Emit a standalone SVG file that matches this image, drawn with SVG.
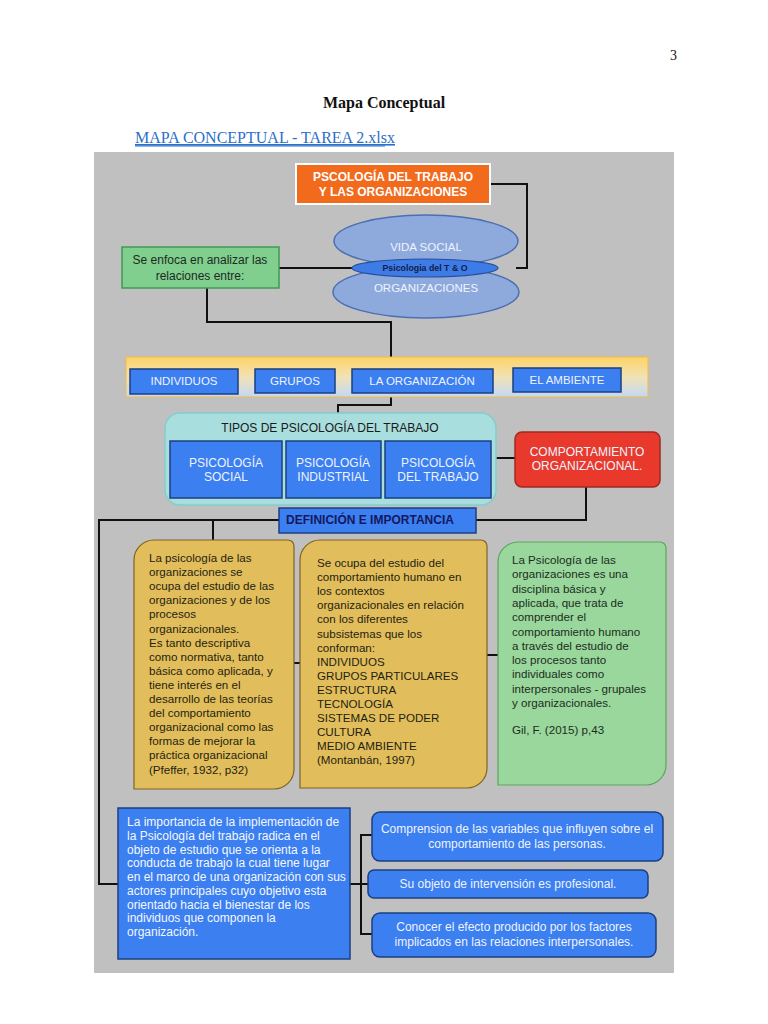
<svg xmlns="http://www.w3.org/2000/svg" width="768" height="1024" viewBox="0 0 768 1024">
<defs>
<linearGradient id="band" x1="0" y1="0" x2="0" y2="1">
<stop offset="0" stop-color="#ffd366"/>
<stop offset="0.5" stop-color="#f1e2b6"/>
<stop offset="1" stop-color="#c3d8f6"/>
</linearGradient>
<style>
.s{font-family:"Liberation Sans",Arial,sans-serif}
.serif{font-family:"Liberation Serif","Times New Roman",serif}
.ln{stroke:#111;stroke-width:2;fill:none}
.blue{fill:#3b7ff0;stroke:#1d3f80;stroke-width:1.5}
.wt{fill:#eef3ff;font-size:11.5px;text-anchor:middle}
.wt12{fill:#eef3ff;font-size:12px;text-anchor:middle}
.dk{fill:#1f1f10;font-size:11.6px}
.gk{fill:#1d2d1d;font-size:11.6px}
.bt{fill:#f4f7ff;font-size:12px}
</style>
</defs>
<rect width="768" height="1024" fill="#ffffff"/>
<g id="header">
<text class="serif" x="677" y="60" font-size="14" text-anchor="end" fill="#111">3</text>
<text class="serif" x="384" y="108" font-size="16" font-weight="bold" text-anchor="middle" fill="#111">Mapa Conceptual</text>
<text class="serif" x="135" y="143" font-size="16" fill="#2a6fc9" text-decoration="underline">MAPA CONCEPTUAL - TAREA 2.xlsx</text>
<line x1="135" y1="146" x2="385" y2="146" stroke="#2a6fc9" stroke-width="1"/>
</g>
<rect x="94" y="152" width="580" height="821" fill="#c0c0c0"/>
<g id="connectors">
<polyline class="ln" points="490,184 527,184 527,268 516,268"/>
<line class="ln" x1="279" y1="268" x2="352" y2="268"/>
<polyline class="ln" points="207,288 207,322 391,322 391,357"/>
<polyline class="ln" points="391,393 391,405 338,405 338,413"/>
<line class="ln" x1="496" y1="458" x2="515" y2="458"/>
<polyline class="ln" points="586,487 586,520 476,520"/>
<polyline class="ln" points="279,520 99,520 99,884 118,884"/>
<line class="ln" x1="213" y1="520" x2="213" y2="541"/>
<line class="ln" x1="290" y1="663" x2="302" y2="663"/>
<line class="ln" x1="485" y1="655" x2="500" y2="655"/>
<line class="ln" x1="350" y1="884" x2="368" y2="884"/>
<polyline class="ln" points="372,835 361,835 361,934 372,934"/>
</g>
<g id="n-titulo">
<rect x="296" y="164" width="194" height="40" fill="#f26a1c" stroke="#ffffff" stroke-width="2"/>
<text class="s" x="393" y="181" font-size="12" font-weight="bold" fill="#ffffff" text-anchor="middle">PSCOLOGÍA DEL TRABAJO</text>
<text class="s" x="393" y="196" font-size="12" font-weight="bold" fill="#ffffff" text-anchor="middle">Y LAS ORGANIZACIONES</text>
</g>
<g id="n-vida-social">
<ellipse cx="426" cy="241" rx="92" ry="26" fill="#8eaadc" stroke="#4d6fb2" stroke-width="1.5"/>
<text class="s" x="426" y="251" font-size="11.5" fill="#eef3ff" text-anchor="middle">VIDA SOCIAL</text>
</g>
<g id="n-organizaciones">
<ellipse cx="426" cy="292" rx="93" ry="26" fill="#8eaadc" stroke="#4d6fb2" stroke-width="1.5"/>
<text class="s" x="426" y="292" font-size="11.5" fill="#eef3ff" text-anchor="middle">ORGANIZACIONES</text>
</g>
<g id="n-psicologia-to">
<ellipse cx="425" cy="268" rx="73" ry="9" fill="#3d7be6" stroke="#2a4f99" stroke-width="1.2"/>
<text class="s" x="425" y="271" font-size="8.8" font-weight="bold" fill="#14204a" text-anchor="middle">Psicologia del T &amp; O</text>
</g>
<g id="n-enfoca">
<rect x="122" y="247" width="157" height="41" fill="#80cf8e" stroke="#3f9a52" stroke-width="1.5"/>
<text class="s" x="200" y="264" font-size="12" fill="#1e2a1e" text-anchor="middle">Se enfoca en analizar las</text>
<text class="s" x="200" y="280" font-size="12" fill="#1e2a1e" text-anchor="middle">relaciones entre:</text>
</g>
<g id="n-banda">
<rect x="126" y="357" width="522" height="40" fill="url(#band)" stroke="#f0b94a" stroke-width="1"/>
</g>
<g id="n-individuos">
<rect class="blue" x="130" y="369" width="108" height="25"/>
<text class="s wt" x="184" y="385">INDIVIDUOS</text>
</g>
<g id="n-grupos">
<rect class="blue" x="255" y="369" width="80" height="24"/>
<text class="s wt" x="295" y="385">GRUPOS</text>
</g>
<g id="n-organizacion">
<rect class="blue" x="352" y="369" width="141" height="24"/>
<text class="s wt" x="422" y="385">LA ORGANIZACIÓN</text>
</g>
<g id="n-ambiente">
<rect class="blue" x="513" y="368" width="108" height="24"/>
<text class="s wt" x="567" y="384">EL AMBIENTE</text>
</g>
<g id="n-tipos">
<rect x="165" y="413" width="331" height="92" rx="15" fill="#a9dede" stroke="#86cccc" stroke-width="1.5"/>
<text class="s" x="330" y="432" font-size="12" fill="#1a1a1a" text-anchor="middle">TIPOS DE PSICOLOGÍA DEL TRABAJO</text>
</g>
<g id="n-social">
<rect class="blue" x="170" y="441" width="112" height="57"/>
<text class="s wt12" x="226" y="467">PSICOLOGÍA</text>
<text class="s wt12" x="226" y="481">SOCIAL</text>
</g>
<g id="n-industrial">
<rect class="blue" x="286" y="441" width="95" height="57"/>
<text class="s wt12" x="333" y="467">PSICOLOGÍA</text>
<text class="s wt12" x="333" y="481">INDUSTRIAL</text>
</g>
<g id="n-del-trabajo">
<rect class="blue" x="385" y="441" width="106" height="57"/>
<text class="s wt12" x="438" y="467">PSICOLOGÍA</text>
<text class="s wt12" x="438" y="481">DEL TRABAJO</text>
</g>
<g id="n-comportamiento">
<rect x="515" y="432" width="145" height="55" rx="7" fill="#e8392c" stroke="#9e2a22" stroke-width="1.5"/>
<text class="s wt12" x="587" y="456">COMPORTAMIENTO</text>
<text class="s wt12" x="587" y="470">ORGANIZACIONAL.</text>
</g>
<g id="n-definicion">
<rect x="279" y="508" width="197" height="25" fill="#3b7ff0" stroke="#1d3f80" stroke-width="1.5"/>
<text class="s" x="370" y="524" font-size="12" font-weight="bold" fill="#15185e" text-anchor="middle">DEFINICIÓN E IMPORTANCIA</text>
</g>
<g id="n-def1">
<path d="M154,540 H288 A6,6 0 0 1 294,546 V769 A20,20 0 0 1 274,789 H134 V560 A20,20 0 0 1 154,540 Z" fill="#e2bd5c" stroke="#7e6420" stroke-width="1.2"/>
<text class="s dk" x="149">
<tspan x="149" y="562">La psicología de las</tspan>
<tspan x="149" y="576.1">organizaciones se</tspan>
<tspan x="149" y="590.2">ocupa del estudio de las</tspan>
<tspan x="149" y="604.3">organizaciones y de los</tspan>
<tspan x="149" y="618.4">procesos</tspan>
<tspan x="149" y="632.5">organizacionales.</tspan>
<tspan x="149" y="646.6">Es tanto descriptiva</tspan>
<tspan x="149" y="660.7">como normativa, tanto</tspan>
<tspan x="149" y="674.8">básica como aplicada, y</tspan>
<tspan x="149" y="688.9">tiene interés en el</tspan>
<tspan x="149" y="703">desarrollo de las teorías</tspan>
<tspan x="149" y="717.1">del comportamiento</tspan>
<tspan x="149" y="731.2">organizacional como las</tspan>
<tspan x="149" y="745.3">formas de mejorar la</tspan>
<tspan x="149" y="759.4">práctica organizacional</tspan>
<tspan x="149" y="773.5">(Pfeffer, 1932, p32)</tspan>
</text>
</g>
<g id="n-def2">
<path d="M320,540 H481 A6,6 0 0 1 487,546 V768 A20,20 0 0 1 467,788 H300 V560 A20,20 0 0 1 320,540 Z" fill="#e2bd5c" stroke="#7e6420" stroke-width="1.2"/>
<text class="s dk">
<tspan x="317" y="567">Se ocupa del estudio del</tspan>
<tspan x="317" y="581.1">comportamiento humano en</tspan>
<tspan x="317" y="595.2">los contextos</tspan>
<tspan x="317" y="609.3">organizacionales en relación</tspan>
<tspan x="317" y="623.4">con los diferentes</tspan>
<tspan x="317" y="637.5">subsistemas que los</tspan>
<tspan x="317" y="651.6">conforman:</tspan>
<tspan x="317" y="665.7">INDIVIDUOS</tspan>
<tspan x="317" y="679.8">GRUPOS PARTICULARES</tspan>
<tspan x="317" y="693.9">ESTRUCTURA</tspan>
<tspan x="317" y="708">TECNOLOGÍA</tspan>
<tspan x="317" y="722.1">SISTEMAS DE PODER</tspan>
<tspan x="317" y="736.2">CULTURA</tspan>
<tspan x="317" y="750.3">MEDIO AMBIENTE</tspan>
<tspan x="317" y="764.4">(Montanbán, 1997)</tspan>
</text>
</g>
<g id="n-def3">
<path d="M518,542 H660 A6,6 0 0 1 666,548 V765 A20,20 0 0 1 646,785 H498 V562 A20,20 0 0 1 518,542 Z" fill="#99d79c" stroke="#5aa55e" stroke-width="1.2"/>
<text class="s gk">
<tspan x="512" y="564">La Psicología de las</tspan>
<tspan x="512" y="578.3">organizaciones es una</tspan>
<tspan x="512" y="592.6">disciplina básica y</tspan>
<tspan x="512" y="606.9">aplicada, que trata de</tspan>
<tspan x="512" y="621.2">comprender el</tspan>
<tspan x="512" y="635.5">comportamiento humano</tspan>
<tspan x="512" y="649.8">a través del estudio de</tspan>
<tspan x="512" y="664.1">los procesos tanto</tspan>
<tspan x="512" y="678.4">individuales como</tspan>
<tspan x="512" y="692.7">interpersonales - grupales</tspan>
<tspan x="512" y="707">y organizacionales.</tspan>
<tspan x="512" y="734">Gil, F. (2015) p,43</tspan>
</text>
</g>
<g id="n-importancia">
<rect x="118" y="808" width="232" height="151" fill="#3b7ff0" stroke="#1d3f80" stroke-width="1.5"/>
<text class="s bt">
<tspan x="127" y="826">La importancia de la implementación de</tspan>
<tspan x="127" y="839.75">la Psicología del trabajo radica en el</tspan>
<tspan x="127" y="853.5">objeto de estudio que se orienta a la</tspan>
<tspan x="127" y="867.25">conducta de trabajo la cual tiene lugar</tspan>
<tspan x="127" y="881">en el marco de una organización con sus</tspan>
<tspan x="127" y="894.75">actores principales cuyo objetivo esta</tspan>
<tspan x="127" y="908.5">orientado hacia el bienestar de los</tspan>
<tspan x="127" y="922.25">individuos que componen la</tspan>
<tspan x="127" y="936">organización.</tspan>
</text>
</g>
<g id="n-comprension">
<rect x="372" y="812" width="291" height="49" rx="8" fill="#3b7ff0" stroke="#1d3f80" stroke-width="1.5"/>
<text class="s wt12" x="517" y="833">Comprension de las variables que influyen sobre el</text>
<text class="s wt12" x="517" y="848">comportamiento de las personas.</text>
</g>
<g id="n-objeto">
<rect x="368" y="870" width="280" height="28" rx="6" fill="#3b7ff0" stroke="#1d3f80" stroke-width="1.5"/>
<text class="s wt12" x="508" y="888">Su objeto de intervensión es profesional.</text>
</g>
<g id="n-conocer">
<rect x="372" y="913" width="284" height="44" rx="8" fill="#3b7ff0" stroke="#1d3f80" stroke-width="1.5"/>
<text class="s wt12" x="514" y="931">Conocer el efecto producido por los factores</text>
<text class="s wt12" x="514" y="946">implicados en las relaciones interpersonales.</text>
</g>
</svg>
